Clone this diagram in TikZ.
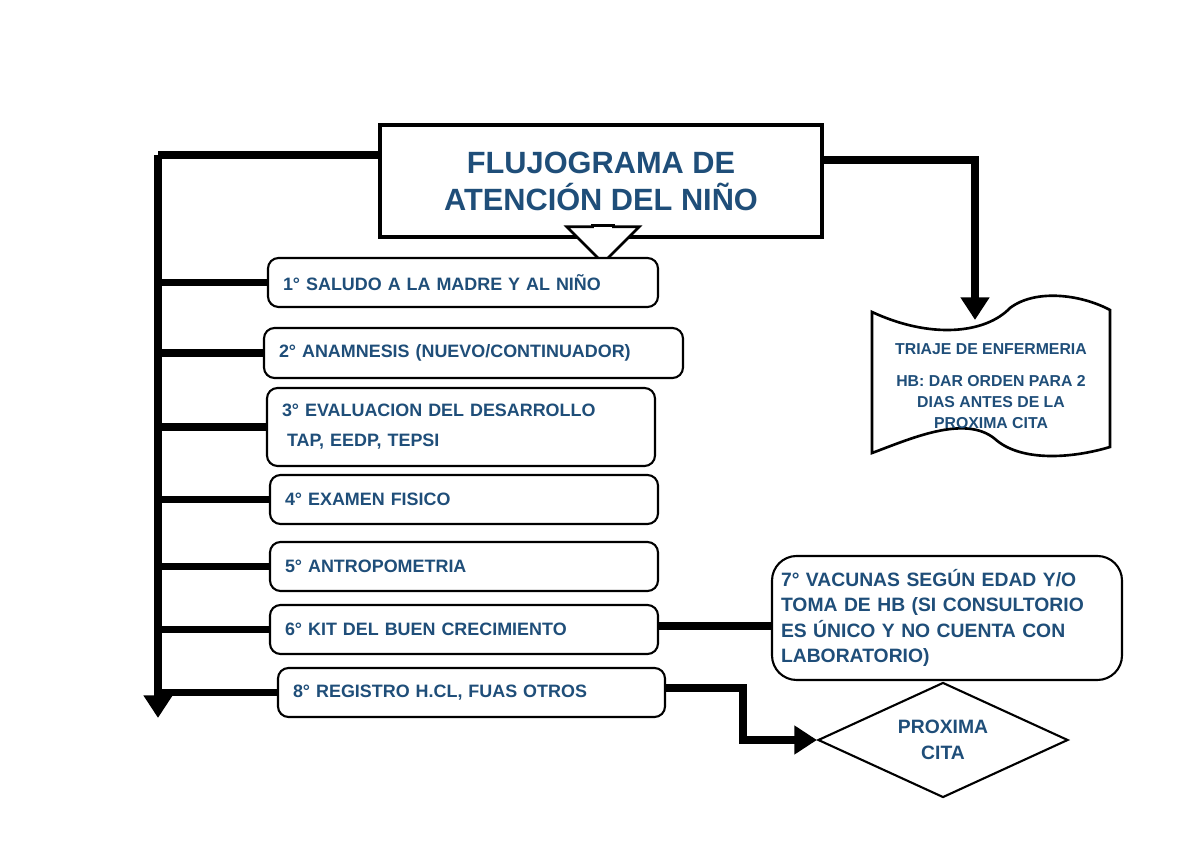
\documentclass[tikz,border=0pt]{standalone}
\usepackage{fontspec}
\setmainfont{Liberation Sans}
\usetikzlibrary{arrows.meta,shapes.geometric,shapes.arrows}
\definecolor{txtblue}{HTML}{1F4E79}
\tikzset{
  paso/.style={draw=black, line width=1.2pt, rounded corners=6pt, fill=white, text=txtblue,
    font=\bfseries\fontsize{10.2}{15}\selectfont, align=left, inner sep=0.3cm, anchor=center},
  flujo/.style={draw=black, line width=4.5pt},
  punta/.style={-{Triangle[length=0.45cm,width=0.55cm]}},
}
\begin{document}
\begin{tikzpicture}
\useasboundingbox (0,0) rectangle (24,16.98);
% titulo
\node[draw=black, line width=2.3pt, fill=white, minimum width=8.84cm, minimum height=2.24cm,
  text=txtblue, font=\bfseries\fontsize{17.5}{21}\selectfont, align=center] (titulo) at (12.02,13.36)
  {FLUJOGRAMA DE\\ATENCIÓN DEL NIÑO};
\node[single arrow, draw=black, line width=1.5pt, fill=white, rotate=-90, minimum height=0.75cm,
  minimum width=1.45cm, single arrow head extend=0.35cm] (flecha) at (12.06,12.2) {};
% pasos
\node[paso, text width=7.2cm, minimum height=0.98cm] (p1) at (9.26,11.33) {1° SALUDO A LA MADRE Y AL NIÑO};
\node[paso, text width=7.78cm, minimum height=1.0cm] (p2) at (9.47,9.92) {2° ANAMNESIS (NUEVO/CONTINUADOR)};
\node[paso, text width=7.16cm, minimum height=1.56cm] (p3) at (9.22,8.44) {3° EVALUACION DEL DESARROLLO\\[2pt]\hspace{0.1cm}TAP, EEDP, TEPSI};
\node[paso, text width=7.16cm, minimum height=0.98cm] (p4) at (9.28,6.99) {4° EXAMEN FISICO};
\node[paso, text width=7.16cm, minimum height=0.98cm] (p5) at (9.28,5.65) {5° ANTROPOMETRIA};
\node[paso, text width=7.16cm, minimum height=0.98cm] (p6) at (9.28,4.39) {6° KIT DEL BUEN CRECIMIENTO};
\node[paso, text width=7.14cm, minimum height=0.98cm] (p8) at (9.43,3.13) {8° REGISTRO H.CL, FUAS OTROS};
\node[paso, rounded corners=14pt, inner sep=0.18cm, text width=6.64cm, minimum height=2.48cm,
  font=\bfseries\fontsize{11}{14.5}\selectfont] (p7) at (18.94,4.62)
  {7° VACUNAS SEGÚN EDAD Y/O\\TOMA DE HB (SI CONSULTORIO\\ES ÚNICO Y NO CUENTA CON\\LABORATORIO)};
\node[diamond, draw=black, line width=1.2pt, aspect=2.17, minimum width=5cm, minimum height=2.3cm,
  inner sep=0pt, text=txtblue, font=\bfseries\fontsize{11}{15}\selectfont, align=center] (cita) at (18.86,2.18) {PROXIMA\\CITA};
% documento triaje
\coordinate (d1) at (17.44,10.74);
\coordinate (d2) at (22.2,10.78);
\coordinate (d3) at (22.2,8.04);
\coordinate (d4) at (17.44,7.92);
\draw[line width=1.5pt, fill=white] (d1) .. controls (18.6,10.2) and (19.7,10.3) .. (20.2,10.82)
  .. controls (20.7,11.2) and (21.6,11.1) .. (d2) -- (d3)
  .. controls (21.4,7.8) and (20.4,7.75) .. (19.9,8.2)
  .. controls (19.3,8.7) and (18.2,8.2) .. (d4) -- cycle;
\node[text=txtblue, font=\bfseries\fontsize{9}{12}\selectfont, align=center] (triaje) at (19.82,9.25)
  {TRIAJE DE ENFERMERIA\\[6pt]HB: DAR ORDEN PARA 2\\DIAS ANTES DE LA\\PROXIMA CITA};
% conectores
\coordinate (tronco) at (3.16,13.88);
\coordinate (fin) at (3.16,2.62);
\draw[flujo] (titulo.west |- tronco) -- (tronco);
\draw[flujo, punta] (tronco) -- (fin);
\foreach \p in {p1,p2,p3,p4,p5,p6}
  \draw[flujo] (tronco |- \p.west) -- (\p.west);
\draw[flujo] (tronco |- p8.west) -- (p8.west);
\draw[flujo, punta] (titulo.east |- 0,13.78) -| (19.5,10.58);
\draw[flujo] (p6.east |- 0,4.46) -- (p7.west |- 0,4.46);
\draw[flujo, punta] (p8.east |- 0,3.22) -| (14.86,2.18) -- (cita.west);
\end{tikzpicture}
\end{document}
